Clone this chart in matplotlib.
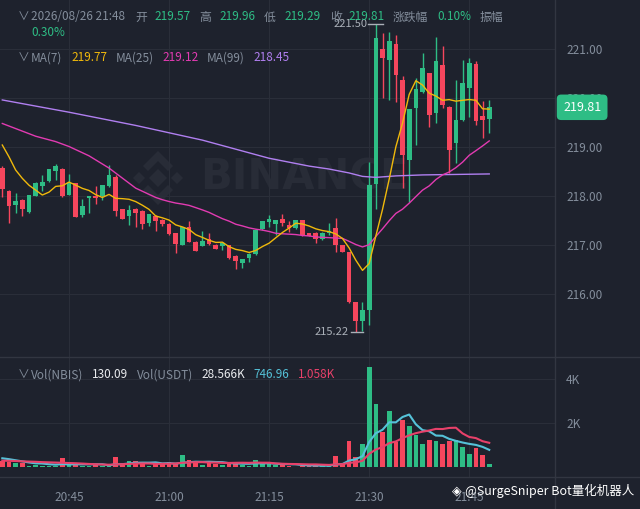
import numpy as np
import pandas as pd
import matplotlib
matplotlib.use('Agg')
import matplotlib.pyplot as plt
import matplotlib.dates as mdates
from matplotlib.lines import Line2D
from matplotlib.patches import Polygon
from matplotlib.ticker import FormatStrFormatter

plt.rcParams['font.family'] = ['Noto Sans CJK SC', 'DejaVu Sans']

# 1 minute candles, 20:35 -> 21:48
times = pd.date_range('2026-08-26 20:35', periods=74, freq='min')

opens = [218.58, 218.10, 217.82, 217.92, 217.68, 218.00, 218.20, 218.31, 218.50, 218.55,
         218.03, 218.26, 217.61, 217.95, 218.00, 217.99, 218.20, 218.39, 217.73, 217.59,
         217.73, 217.70, 217.44, 217.60, 217.52, 217.43, 217.24, 217.00, 217.36, 217.07,
         216.98, 217.12, 217.01, 216.98, 217.00, 216.78, 216.64, 216.73, 216.82, 217.32,
         217.47, 217.42, 217.54, 217.41, 217.34, 217.51, 217.24, 217.25, 217.12, 217.25,
         217.35, 217.00, 216.85, 215.83, 215.45, 215.67, 218.24, 220.99, 220.78, 221.10,
         220.37, 218.73, 219.79, 220.13, 220.50, 219.70, 220.67, 219.81, 219.09, 219.55,
         220.20, 220.69, 219.64, 219.57]
highs = [218.62, 218.12, 218.07, 217.93, 218.03, 218.28, 218.43, 218.56, 218.65, 218.57,
         218.45, 218.27, 217.93, 218.00, 218.20, 218.23, 218.63, 218.42, 217.74, 217.82,
         217.75, 217.71, 217.64, 217.62, 217.53, 217.45, 217.25, 217.37, 217.49, 217.08,
         217.29, 217.24, 217.02, 217.06, 217.01, 216.79, 216.72, 216.83, 217.32, 217.49,
         217.61, 217.51, 217.63, 217.48, 217.52, 217.52, 217.25, 217.26, 217.27, 217.44,
         217.56, 217.01, 216.86, 215.84, 215.84, 218.70, 221.50, 221.32, 221.35, 221.29,
         220.45, 219.78, 220.40, 220.91, 220.52, 221.25, 221.07, 219.83, 220.37, 220.78,
         220.82, 220.76, 219.94, 219.96]
lows = [217.97, 217.44, 217.65, 217.59, 217.65, 217.99, 218.11, 218.28, 218.33, 217.98,
        218.02, 217.57, 217.58, 217.65, 217.84, 217.92, 218.19, 217.59, 217.53, 217.41,
        217.37, 217.33, 217.39, 217.29, 217.39, 217.21, 216.83, 216.99, 217.06, 216.87,
        216.97, 217.01, 216.91, 216.90, 216.72, 216.52, 216.54, 216.66, 216.80, 217.31,
        217.36, 217.20, 217.39, 217.27, 217.33, 217.19, 217.18, 217.05, 217.11, 217.20,
        216.86, 216.85, 215.81, 215.22, 215.25, 215.37, 217.73, 219.99, 219.96, 219.92,
        218.16, 217.88, 219.04, 220.10, 219.41, 219.48, 219.80, 218.46, 218.67, 219.53,
        219.62, 219.45, 219.18, 219.29]
closes = [218.14, 217.80, 217.90, 217.73, 218.02, 218.26, 218.29, 218.55, 218.62, 217.99,
          218.26, 217.58, 217.80, 217.99, 217.95, 218.22, 218.43, 217.69, 217.54, 217.71,
          217.66, 217.43, 217.63, 217.48, 217.43, 217.22, 217.02, 217.37, 217.07, 216.88,
          217.09, 217.02, 216.92, 217.05, 216.73, 216.68, 216.71, 216.82, 217.31, 217.48,
          217.53, 217.50, 217.44, 217.34, 217.51, 217.20, 217.19, 217.13, 217.25, 217.29,
          217.01, 216.86, 215.84, 215.45, 215.67, 218.22, 221.23, 220.81, 221.17, 220.47,
          218.84, 219.77, 220.18, 220.61, 219.65, 220.76, 219.86, 218.94, 219.55, 220.30,
          220.72, 219.54, 219.55, 219.81]
volume = [290, 230, 210, 210, 75, 105, 75, 75, 75, 410,
          90, 136, 75, 75, 105, 75, 60, 455, 150, 300,
          300, 150, 60, 150, 136, 240, 150, 560, 330, 210,
          105, 180, 150, 105, 240, 240, 120, 75, 315, 150,
          135, 105, 135, 75, 30, 75, 40, 105, 60, 90,
          500, 170, 1180, 470, 1075, 4560, 2890, 1600, 2560, 1150,
          2170, 1860, 1450, 1045, 1230, 1200, 1075, 1180, 1230, 925,
          620, 895, 575, 130]

ma7_head = [219.04, 218.80, 218.53, 218.36, 218.22, 218.12]
ma25_head_idx = [0, 5, 8, 10, 13, 16, 20, 23]
ma25_head = [219.48, 219.22, 219.11, 219.01, 218.82, 218.57, 218.16, 217.97]
ma99_idx = [0, 10, 20, 30, 40, 46, 49, 52, 54, 56, 59, 63, 68, 73]
ma99_val = [219.96, 219.71, 219.44, 219.14, 218.77, 218.61, 218.55, 218.47, 218.40,
            218.38, 218.41, 218.43, 218.44, 218.45]
vol_ma7_head = [410, 370, 320, 270, 220, 180]
vol_ma14_head = [300, 295, 285, 270, 260, 250, 235, 225, 215, 205, 195, 185, 170]

price_ticks = [216, 217, 218, 219, 220, 221]
vol_ticks = [2000, 4000]
vol_tick_labels = ['2K', '4K']

BG = '#1e222d'
GRID = '#2a2e39'
SEP = '#323641'
UP = '#2ebd85'
DOWN = '#f6465d'
TXT = '#848e9c'
C_MA7 = '#f0b90b'
C_MA25 = '#e23bb2'
C_MA99 = '#b07ff0'
C_V1 = '#55c2d8'
C_V2 = '#e8416a'

W, H = 640, 509


def px(X, Y):
    return X / W, 1 - Y / H


fig = plt.figure(figsize=(6.4, 5.09), dpi=100, facecolor=BG)
ax = fig.add_axes([0, 1 - 357 / H, 555 / W, 357 / H])
ax2 = fig.add_axes([0, 1 - 477 / H, 555 / W, 120 / H], sharex=ax)

x = mdates.date2num(times)
step = 1 / 1440.
opens = np.array(opens)
closes = np.array(closes)
cols = [UP if c >= o else DOWN for o, c in zip(opens, closes)]

# background watermark
fig.text(*px(200, 178), 'BINANCE', fontsize=30, fontweight='bold', color='#282c37',
         va='center', ha='left', family='DejaVu Sans', zorder=-1)


def logo_piece(pts):
    p = Polygon([px(a, b) for a, b in pts], closed=True, transform=fig.transFigure,
                fc='#282c37', ec='none', zorder=-1)
    fig.add_artist(p)


logo_piece([(158, 169), (167, 178), (158, 187), (149, 178)])
logo_piece([(139, 172), (145, 178), (139, 184), (133, 178)])
logo_piece([(177, 172), (183, 178), (177, 184), (171, 178)])
logo_piece([(143, 166), (158, 151), (173, 166), (168, 171), (158, 161), (148, 171)])
logo_piece([(143, 190), (158, 205), (173, 190), (168, 185), (158, 195), (148, 185)])

for a in (ax, ax2):
    a.set_facecolor('none')
    for s in a.spines.values():
        s.set_visible(False)
    a.grid(True, color=GRID, lw=0.8)
    a.tick_params(length=0)
    a.yaxis.tick_right()
    a.xaxis.set_major_locator(mdates.MinuteLocator(byminute=[0, 15, 30, 45]))
    a.xaxis.set_major_formatter(mdates.DateFormatter('%H:%M'))

ax.set_xlim(x[0] - 0.345 * step, x[0] + 82.86 * step)

# candles
body_lo = np.minimum(opens, closes)
body_h = np.maximum(np.abs(closes - opens), 0.02)
ax.vlines(x, lows, highs, colors=cols, lw=1, zorder=2)
ax.bar(x, body_h, bottom=body_lo, width=0.7 * step, color=cols, zorder=3)

ma7 = pd.Series(closes).rolling(7).mean().to_numpy()
ma7[:6] = ma7_head
ma25 = pd.Series(closes).rolling(25).mean().to_numpy()
ma25_x = np.concatenate([x[ma25_head_idx], x[24:]])
ma25_y = np.concatenate([ma25_head, ma25[24:]])
ax.plot(x[ma99_idx], ma99_val, color=C_MA99, lw=1, zorder=4)
ax.plot(ma25_x, ma25_y, color=C_MA25, lw=1, zorder=4)
ax.plot(x, ma7, color=C_MA7, lw=1, zorder=4)

ax.set_ylim(214.714, 222.0)
ax.set_yticks(price_ticks)
ax.yaxis.set_major_formatter(FormatStrFormatter('%.2f'))
ax.tick_params(axis='y', labelcolor=TXT, labelsize=8.5, pad=8)
ax.tick_params(axis='x', labelbottom=False)

# high / low markers
hi = int(np.argmax(highs))
lo = int(np.argmin(lows))
ax.plot([x[hi] - 1.1 * step, x[hi] + 1.0 * step], [highs[hi]] * 2, color='#aab0b8', lw=1, zorder=5)
ax.text(x[hi] - 1.3 * step, highs[hi], f'{highs[hi]:.2f}', color='#aab0b8', fontsize=8,
        ha='right', va='center', zorder=5)
ax.plot([x[lo] - 0.7 * step, x[lo] + 1.1 * step], [lows[lo]] * 2, color='#aab0b8', lw=1, zorder=5)
ax.text(x[lo] - 1.0 * step, lows[lo], f'{lows[lo]:.2f}', color='#aab0b8', fontsize=8,
        ha='right', va='center', zorder=5)

# last price tag
ax.text(563 / 555, closes[-1], f'{closes[-1]:.2f}', transform=ax.get_yaxis_transform(),
        color='white', fontsize=9, ha='left', va='center', clip_on=False,
        bbox=dict(boxstyle='round,pad=0.5,rounding_size=0.35', fc=UP, ec='none'))

# volume panel
ax2.bar(x, volume, width=0.7 * step, color=cols, zorder=2)
vma7 = pd.Series(volume, dtype=float).rolling(7).mean().to_numpy()
vma7[:6] = vol_ma7_head
vma14 = pd.Series(volume, dtype=float).rolling(14).mean().to_numpy()
vma14[:13] = vol_ma14_head
ax2.plot(x, vma7, color=C_V1, lw=1.5, zorder=3)
ax2.plot(x, vma14, color=C_V2, lw=1.5, zorder=3)
ax2.set_ylim(-441, 5014)
ax2.set_yticks(vol_ticks)
ax2.set_yticklabels(vol_tick_labels)
ax2.tick_params(axis='y', labelcolor=TXT, labelsize=8.5, pad=8)
ax2.tick_params(axis='x', labelcolor=TXT, labelsize=8.5, pad=10)

# panel separators
fig.add_artist(Line2D([555 / W] * 2, [0, 1], color=SEP, lw=1, transform=fig.transFigure))
for yy in (357, 477):
    fig.add_artist(Line2D([0, 1], [1 - yy / H] * 2, color=SEP, lw=1, transform=fig.transFigure))

# header lines
hdr = [('∨', 18, 17, TXT), ('2026/08/26 21:48', 31, 17, TXT),
       ('开', 135, 17, TXT), (f'{opens[-1]:.2f}', 154, 17, UP),
       ('高', 199, 17, TXT), (f'{highs[-1]:.2f}', 219, 17, UP),
       ('低', 264, 17, TXT), (f'{lows[-1]:.2f}', 284, 17, UP),
       ('收', 330, 17, TXT), (f'{closes[-1]:.2f}', 348, 17, UP),
       ('涨跌幅', 393, 17, TXT), ('0.10%', 437, 17, UP),
       ('振幅', 480, 17, TXT), ('0.30%', 31, 33, UP),
       ('∨', 18, 58, TXT), ('MA(7)', 31, 58, TXT), (f'{ma7[-1]:.2f}', 71, 58, C_MA7),
       ('MA(25)', 116, 58, TXT), (f'{ma25[-1]:.2f}', 162, 58, C_MA25),
       ('MA(99)', 207, 58, TXT), (f'{ma99_val[-1]:.2f}', 253, 58, C_MA99),
       ('∨', 18, 375, TXT), ('Vol(NBIS)', 31, 375, TXT), ('130.09', 92, 375, '#eaecef'),
       ('Vol(USDT)', 137, 375, TXT), ('28.566K', 201, 375, '#eaecef'),
       ('746.96', 253, 375, C_V1), ('1.058K', 298, 375, C_V2)]
for s, X, Y, c in hdr:
    fig.text(*px(X, Y), s, color=c, fontsize=8.5, ha='left', va='center')

fig.text(*px(452, 491), '◈', color='white', fontsize=9, ha='left', va='center')
fig.text(*px(465, 491), '@SurgeSniper Bot量化机器人', color='white', fontsize=9,
         ha='left', va='center')

fig.savefig('out.png', dpi=100, facecolor=BG)
